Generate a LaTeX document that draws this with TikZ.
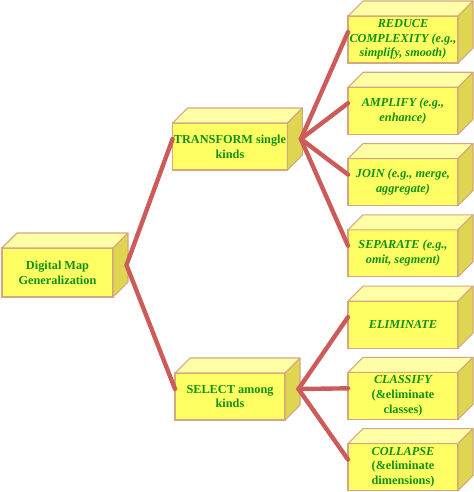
\documentclass[tikz,border=0pt]{standalone}
\usepackage{fontspec}
\setmainfont{Liberation Serif}
\usepackage{tikz}
\usetikzlibrary{positioning,calc}
\definecolor{boxfront}{RGB}{255,255,100}
\definecolor{boxtop}{RGB}{255,255,165}
\definecolor{boxside}{RGB}{222,214,80}
\definecolor{boxline}{RGB}{214,166,128}
\definecolor{txtgreen}{RGB}{18,145,18}
\definecolor{linkred}{RGB}{204,92,90}
\tikzset{
  block/.style={draw=boxline,fill=boxfront,line width=0.8pt,outer sep=0pt,inner sep=1pt,
    minimum width=82.5pt,minimum height=35.25pt,align=center,text=txtgreen,
    font=\fontsize{9.2}{11}\selectfont\bfseries},
  leaf/.style={block,font=\fontsize{9.2}{11}\selectfont\bfseries\itshape},
  topface/.style={draw=boxline,fill=boxtop,line width=0.8pt,line join=round},
  sideface/.style={draw=boxline,fill=boxside,line width=0.8pt,line join=round},
  link/.style={draw=linkred,line width=3.3pt,line join=round,line cap=round},
  node distance=18.2pt
}

\begin{document}
\begin{tikzpicture}[x=0.75pt,y=-0.75pt]
  \useasboundingbox (0,0) rectangle (474,492);

  \node [block,minimum width=83.25pt,minimum height=36.75pt] (root) at (57.5,272.5) {Digital Map\\Generalization};

  \node [block] (transform) at (230,146.5) {TRANSFORM single\\kinds};
  \node [block] (select) at (230,396.5) {SELECT among\\kinds};

  \node [leaf] (reduce) at (403,39.5) {REDUCE\\COMPLEXITY (e.g.,\\simplify, smooth)};
  \node [leaf,below=of reduce] (amplify) {AMPLIFY (e.g.,\\enhance)};
  \node [leaf,below=of amplify] (join) {JOIN (e.g., merge,\\aggregate)};
  \node [leaf,below=of join] (separate) {SEPARATE (e.g.,\\omit, segment)};
  \node [leaf,below=of separate] (eliminate) {ELIMINATE};
  \node [leaf,below=of eliminate] (classify) {CLASSIFY\\\textup{(\&eliminate}\\\textup{classes)}};
  \node [leaf,below=of classify] (collapse) {COLLAPSE\\\textup{(\&eliminate}\\\textup{dimensions)}};

  % top and side faces of the boxes
  \foreach \n in {root,transform,select,reduce,amplify,join,separate,eliminate,classify,collapse}{
    \draw [topface] (\n.north west) -- ([shift={(15,-15)}]\n.north west)
      -- ([shift={(15,-15)}]\n.north east) -- (\n.north east) -- cycle;
    \draw [sideface] (\n.north east) -- ([shift={(15,-15)}]\n.north east)
      -- ([shift={(15,-15)}]\n.south east) -- (\n.south east) -- cycle;
  }

  \coordinate (rootout) at ([shift={(13.5,-7.5)}]root.east);
  \coordinate (transout) at ([shift={(13.5,-7.5)}]transform.east);
  \coordinate (selout) at ([shift={(13.5,-7.5)}]select.east);

  \draw [link] ([shift={(0,-7.5)}]transform.west) -- (rootout) -- ([shift={(0,-7.5)}]select.west);

  \foreach \n in {reduce,amplify,join,separate}
    \draw [link] (transout) -- ([shift={(0,-7.5)}]\n.west);
  \foreach \n in {eliminate,classify,collapse}
    \draw [link] (selout) -- ([shift={(0,-7.5)}]\n.west);
\end{tikzpicture}
\end{document}
